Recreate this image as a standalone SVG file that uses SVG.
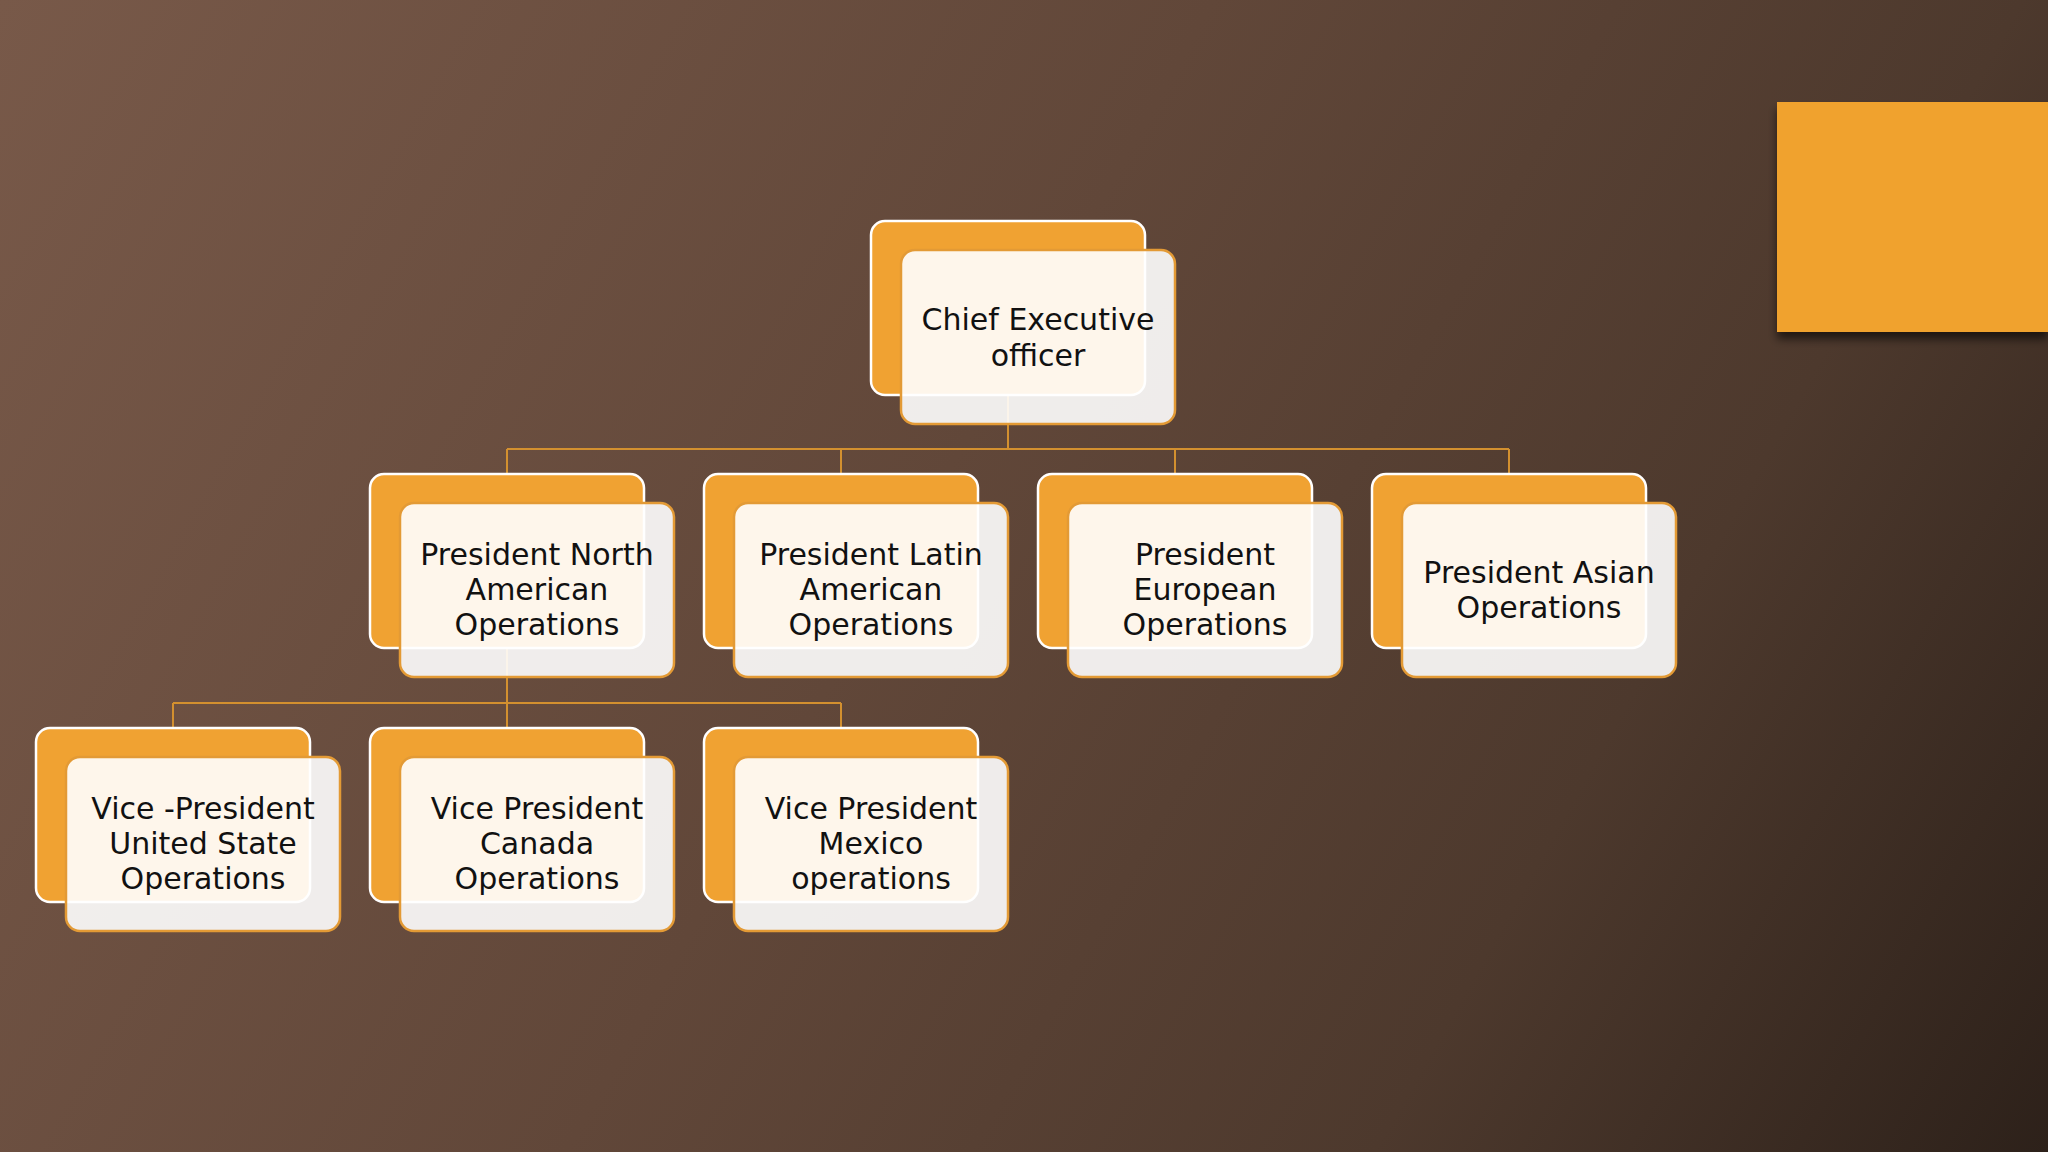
<svg xmlns="http://www.w3.org/2000/svg" width="2048" height="1152" viewBox="0 0 2048 1152">
<defs>
<linearGradient id="bg" x1="0" y1="0" x2="2048" y2="1152" gradientUnits="userSpaceOnUse">
<stop offset="0" stop-color="#785949"/>
<stop offset="0.45" stop-color="#614739"/>
<stop offset="0.75" stop-color="#4d392d"/>
<stop offset="1" stop-color="#2d211a"/>
</linearGradient>
<filter id="sh" x="-10%" y="-10%" width="130%" height="130%">
<feGaussianBlur in="SourceAlpha" stdDeviation="5"/>
<feOffset dx="0" dy="7"/>
<feComponentTransfer><feFuncA type="linear" slope="0.6"/></feComponentTransfer>
<feMerge><feMergeNode/><feMergeNode in="SourceGraphic"/></feMerge>
</filter>
</defs>
<style>
.back{fill:#F0A232;stroke:#ffffff;stroke-width:2.5}
.front{fill:#ffffff;fill-opacity:0.9;stroke:#E39A35;stroke-width:2.5}
.conn{stroke:#D3902F;stroke-width:2;fill:none}
.lbl{font-family:"DejaVu Sans","Open Sans",sans-serif;font-size:30px;fill:#111111;text-anchor:middle}
</style>
<rect width="2048" height="1152" fill="url(#bg)"/>
<rect x="1777" y="102" width="271" height="230" fill="#F0A22E" filter="url(#sh)"/>
<g id="connectors">
<path class="conn" d="M1008 395V449M507 449H1509M507 449V474M841 449V474M1175 449V474M1509 449V474"/>
<path class="conn" d="M507 648V703M173 703H841M173 703V728M507 703V728M841 703V728"/>
</g>
<g id="ceo">
<rect class="back" x="871" y="221" width="274" height="174" rx="14"/>
<rect class="front" x="901" y="250" width="274" height="174" rx="14"/>
<text class="lbl" x="1038" y="330"><tspan x="1038">Chief Executive</tspan><tspan x="1038" dy="36">officer</tspan></text>
</g>
<g id="pres-north">
<rect class="back" x="370" y="474" width="274" height="174" rx="14"/>
<rect class="front" x="400" y="503" width="274" height="174" rx="14"/>
<text class="lbl" x="537" y="565"><tspan x="537">President North</tspan><tspan x="537" dy="35">American</tspan><tspan x="537" dy="35">Operations</tspan></text>
</g>
<g id="pres-latin">
<rect class="back" x="704" y="474" width="274" height="174" rx="14"/>
<rect class="front" x="734" y="503" width="274" height="174" rx="14"/>
<text class="lbl" x="871" y="565"><tspan x="871">President Latin</tspan><tspan x="871" dy="35">American</tspan><tspan x="871" dy="35">Operations</tspan></text>
</g>
<g id="pres-europe">
<rect class="back" x="1038" y="474" width="274" height="174" rx="14"/>
<rect class="front" x="1068" y="503" width="274" height="174" rx="14"/>
<text class="lbl" x="1205" y="565"><tspan x="1205">President</tspan><tspan x="1205" dy="35">European</tspan><tspan x="1205" dy="35">Operations</tspan></text>
</g>
<g id="pres-asia">
<rect class="back" x="1372" y="474" width="274" height="174" rx="14"/>
<rect class="front" x="1402" y="503" width="274" height="174" rx="14"/>
<text class="lbl" x="1539" y="583"><tspan x="1539">President Asian</tspan><tspan x="1539" dy="35">Operations</tspan></text>
</g>
<g id="vp-us">
<rect class="back" x="36" y="728" width="274" height="174" rx="14"/>
<rect class="front" x="66" y="757" width="274" height="174" rx="14"/>
<text class="lbl" x="203" y="819"><tspan x="203">Vice -President</tspan><tspan x="203" dy="35">United State</tspan><tspan x="203" dy="35">Operations</tspan></text>
</g>
<g id="vp-canada">
<rect class="back" x="370" y="728" width="274" height="174" rx="14"/>
<rect class="front" x="400" y="757" width="274" height="174" rx="14"/>
<text class="lbl" x="537" y="819"><tspan x="537">Vice President</tspan><tspan x="537" dy="35">Canada</tspan><tspan x="537" dy="35">Operations</tspan></text>
</g>
<g id="vp-mexico">
<rect class="back" x="704" y="728" width="274" height="174" rx="14"/>
<rect class="front" x="734" y="757" width="274" height="174" rx="14"/>
<text class="lbl" x="871" y="819"><tspan x="871">Vice President</tspan><tspan x="871" dy="35">Mexico</tspan><tspan x="871" dy="35">operations</tspan></text>
</g>
</svg>
